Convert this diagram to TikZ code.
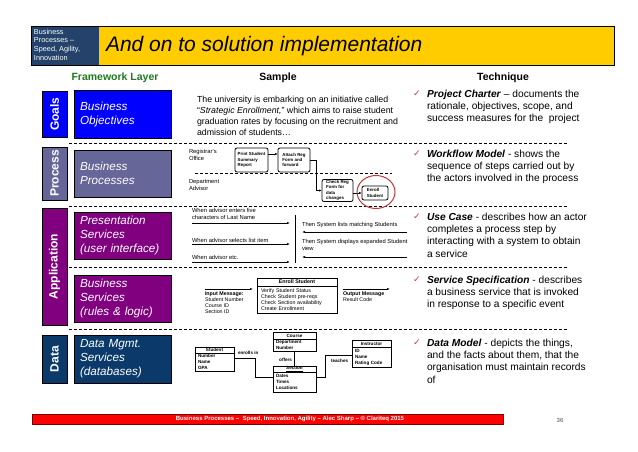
\documentclass[tikz,border=0pt]{standalone}
\usepackage{fontspec}
\setmainfont{Liberation Sans}
\newfontfamily\tickfont{DejaVu Sans}
\usepackage{tikz}
\usetikzlibrary{arrows.meta,positioning}

\definecolor{bannerblue}{HTML}{24426A}
\definecolor{banneryellow}{HTML}{FFCC00}
\definecolor{goalblue}{HTML}{0000FF}
\definecolor{procslate}{HTML}{666699}
\definecolor{apppurple}{HTML}{800080}
\definecolor{datanavy}{HTML}{0B3A6A}
\definecolor{layergreen}{HTML}{1E7B1E}
\definecolor{tickpink}{HTML}{CC3377}
\definecolor{ringred}{HTML}{C83232}
\definecolor{footred}{HTML}{FF0000}
\definecolor{footdark}{HTML}{7A0000}

\begin{document}
\begin{tikzpicture}[x=1pt, y=-1pt, >={Latex[length=3pt,width=2.2pt]},
  every node/.style={inner sep=0pt, outer sep=0pt},
  tabbox/.style={draw=black, line width=0.6pt, rotate=90, text=white,
    font=\bfseries\fontsize{12}{14}\selectfont, minimum height=25pt},
  layerbox/.style={draw=black, line width=0.6pt, minimum width=97pt, inner xsep=6pt,
    text width=85pt, align=left, text=white, font=\itshape\fontsize{11.7}{14}\selectfont},
  colhead/.style={font=\bfseries\fontsize{10.5}{12}\selectfont},
  layersep/.style={dash pattern=on 3pt off 2pt, line width=0.6pt},
  wfbox/.style={draw=black, line width=0.8pt, rounded corners=2pt, align=left,
    inner xsep=2pt, font=\bfseries\fontsize{4.4}{5.4}\selectfont},
  smalltext/.style={align=left, font=\fontsize{5.8}{7}\selectfont},
  ucarrow/.style={->, line width=0.6pt},
  erhead/.style={draw=black, line width=0.8pt, font=\bfseries\fontsize{4.6}{6}\selectfont},
  erbody/.style={draw=black, line width=0.8pt, align=left, inner xsep=3pt,
    font=\bfseries\fontsize{4.6}{6}\selectfont},
  erlabel/.style={font=\bfseries\fontsize{4.6}{6}\selectfont},
  techtick/.style={anchor=west, text=tickpink, font=\tickfont\fontsize{9}{10}\selectfont},
  techtext/.style={anchor=north west, align=left, font=\fontsize{10.2}{12.3}\selectfont}]
  \useasboundingbox (0,0) rectangle (638,451);

  % Banner
  \fill[bannerblue] (31,26) rectangle (99,65);
  \fill[banneryellow] (99,26) rectangle (614,65);
  \draw[line width=0.8pt] (31,26) rectangle (614,65);
  \node[anchor=north west, align=left, text=white, font=\fontsize{7.3}{8.6}\selectfont]
    (bannertag) at (34,29) {Business\\Processes --\\Speed, Agility,\\Innovation};
  \node[anchor=west, font=\itshape\fontsize{21}{24}\selectfont]
    (bannertitle) at (106,46) {And on to solution implementation};

  % Column headings
  \node[colhead, text=layergreen] (headlayer) at (115,78) {Framework Layer};
  \node[colhead] (headsample) at (278,78) {Sample};
  \node[colhead] (headtech) at (503,78) {Technique};

  % Layer tabs
  \node[tabbox, fill=goalblue, minimum width=46pt] (goalstab) at (54.5,114) {Goals};
  \node[tabbox, fill=procslate, minimum width=53pt] (processtab) at (54.5,173.5) {Process};
  \node[tabbox, fill=apppurple, minimum width=117pt] (apptab) at (54.5,266.5) {Application};
  \node[tabbox, fill=datanavy, minimum width=48pt] (datatab) at (54.5,359) {Data};

  % Layer boxes
  \node[layerbox, fill=goalblue, minimum height=48pt] (objectives) at (122.5,114) {Business\\Objectives};
  \node[layerbox, fill=procslate, minimum height=47pt] (processes) at (122.5,173.5) {Business\\Processes};
  \node[layerbox, fill=apppurple, minimum height=47pt] (presentation) at (122.5,235.5) {Presentation\\Services\\(user interface)};
  \node[layerbox, fill=apppurple, minimum height=47pt] (bizservices) at (122.5,298.5) {Business\\Services\\(rules \& logic)};
  \node[layerbox, fill=datanavy, minimum height=48pt] (datamgmt) at (122.5,359) {Data Mgmt.\\Services\\(databases)};

  % Separators
  \foreach \y in {143,206,267,329}
    \draw[layersep] (69,\y) -- (567,\y);

  % Goals sample
  \node[anchor=north west, align=left, font=\fontsize{8.8}{11.2}\selectfont] (goalsample) at (197,96)
    {The university is embarking on an initiative called\\
     ``\textit{Strategic Enrollment,}'' which aims to raise student\\
     graduation rates by focusing on the recruitment and\\
     admission of students\dots};

  % Process sample (workflow)
  \node[smalltext, anchor=north west] (registrar) at (189,149.5) {Registrar's\\Office};
  \node[smalltext, anchor=north west] (advisor) at (189,179.5) {Department\\Advisor};
  \draw[layersep, line width=0.5pt] (195,173) -- (392,173);
  \node[wfbox, minimum width=33pt, minimum height=24pt] (printrep) at (251.5,160) {Print Student\\Summary\\Report};
  \node[wfbox, minimum width=32pt, minimum height=24pt] (attachreg) at (294,160) {Attach Reg\\Form and\\forward};
  \node[wfbox, minimum width=31pt, minimum height=22pt] (checkreg) at (337.5,190.5) {Check Reg\\Form for\\data\\changes};
  \node[wfbox, minimum width=26pt, minimum height=14pt] (enrollwf) at (375,193) {Enroll\\Student};
  \draw[->, line width=0.6pt] ([yshift=6pt]printrep.east) -- ([yshift=6pt]printrep.east -| attachreg.west);
  \draw[->, line width=0.6pt] (attachreg.east) -- ++(6,0) |- (checkreg.west);
  \draw[->, line width=0.6pt] (checkreg.east |- enrollwf.west) -- (enrollwf.west);
  \draw[ringred, line width=1pt] (376,192) ellipse [x radius=19pt, y radius=16.5pt];

  % Presentation sample (use case)
  \coordinate (ustop) at (295,215);
  \coordinate (usbot) at (295,263);
  \coordinate (usright) at (407,215);
  \draw[line width=0.7pt] (ustop) -- (usbot);
  \node[smalltext, anchor=north west] (actorone) at (192,208.5) {When advisor enters five\\characters of Last Name};
  \node[smalltext, anchor=west] (actortwo) at (192,240) {When advisor selects list item};
  \node[smalltext, anchor=west] (actorthree) at (192,257) {When advisor etc.};
  \node[smalltext, anchor=west] (sysone) at (302,225) {Then System lists matching Students};
  \node[smalltext, anchor=north west] (systwo) at (302,239.5) {Then System displays expanded Student\\view};
  \draw[ucarrow, shorten >=5pt] ([yshift=-14.5pt]actorone.north west) -- ([yshift=-14.5pt]actorone.north west -| ustop);
  \draw[ucarrow, shorten >=5pt] ([yshift=-4pt]actortwo.west) -- ([yshift=-4pt]actortwo.west -| ustop);
  \draw[ucarrow, shorten >=5pt] ([yshift=-5pt]actorthree.west) -- ([yshift=-5pt]actorthree.west -| ustop);
  \draw[ucarrow] ([yshift=-7pt]sysone.west -| usright) -- ([yshift=-7pt]sysone.west);
  \draw[ucarrow] ([yshift=-17.5pt]systwo.north west -| usright) -- ([yshift=-17.5pt]systwo.north west);

  % Business services sample (service spec)
  \node[erhead, minimum width=80pt, minimum height=8pt, font=\bfseries\fontsize{5.3}{6}\selectfont] (svchead) at (297,282) {Enroll Student};
  \node[erbody, below=0pt of svchead, minimum width=80pt, text width=72pt, minimum height=27pt,
    font=\fontsize{5.3}{6}\selectfont] (svcbody) {Verify Student Status\\Check Student pre-reqs\\Check Section availability\\Create Enrollment};
  \node[smalltext, anchor=north west, font=\fontsize{5.3}{6}\selectfont] (inmsg) at (205,292)
    {\textbf{Input Message:}\\Student Number\\Course ID\\Section ID};
  \node[smalltext, anchor=north west, font=\fontsize{5.3}{6}\selectfont] (outmsg) at (343,292)
    {\textbf{Output Message}\\Result Code};
  \draw[ucarrow, shorten >=4pt] ([yshift=3pt]inmsg.north west) -- ([yshift=3pt]inmsg.north west -| svcbody.west);
  \draw[ucarrow] ([yshift=3pt]outmsg.north west) -- ++(47,0);

  % Data sample (data model)
  \node[erhead, minimum width=39pt, minimum height=6pt] (studenthead) at (214.5,350) {Student};
  \node[erbody, below=0pt of studenthead, text width=33pt, minimum height=18pt] (studentbody) {Number\\Name\\GPA};
  \node[erhead, minimum width=43pt, minimum height=7pt] (coursehead) at (294.5,335.5) {Course};
  \node[erbody, below=0pt of coursehead, text width=37pt, minimum height=12pt] (coursebody) {Department\\Number};
  \node[erhead, minimum width=43pt, minimum height=6pt] (sectionhead) at (294.5,369) {\underline{Section}};
  \node[erbody, below=0pt of sectionhead, text width=37pt, minimum height=20pt] (sectionbody) {Dates\\Times\\Locations};
  \node[erhead, minimum width=39pt, minimum height=7pt] (instructorhead) at (371.5,343.5) {Instructor};
  \node[erbody, below=0pt of instructorhead, text width=33pt, minimum height=20pt] (instructorbody) {ID\\Name\\Rating Code};
  \draw[line width=0.8pt] ([yshift=4pt]studentbody.east) -- ++(21,0) |- ([yshift=5pt]sectionbody.west);
  \draw[line width=0.8pt] (coursebody.south) -- (sectionhead.north);
  \draw[line width=0.8pt] ([yshift=5pt]sectionbody.east) -- ++(9,0) |- ([yshift=2pt]instructorbody.west);
  \node[erlabel, anchor=west] (enrollslbl) at (238,353) {enrolls in};
  \node[erlabel, anchor=east] (offerslbl) at (292,360) {offers};
  \node[erlabel, anchor=west] (teacheslbl) at (331,360.5) {teaches};

  % Technique column
  \node[techtick] (pctick) at (413,94) {✓};
  \node[techtext] (pctext) at (427,90) {\textbf{\textit{Project Charter}} -- documents the\\rationale, objectives, scope, and\\success measures for the \ project};
  \node[techtick] (wftick) at (413,154) {✓};
  \node[techtext] (wftext) at (427,150) {\textbf{\textit{Workflow Model}} - shows the\\sequence of steps carried out by\\the actors involved in the process};
  \node[techtick] (uctick) at (413,217) {✓};
  \node[techtext] (uctext) at (427,213) {\textbf{\textit{Use Case}} - describes how an actor\\completes a process step by\\interacting with a system to obtain\\a service};
  \node[techtick] (sstick) at (413,280) {✓};
  \node[techtext] (sstext) at (427,276) {\textbf{\textit{Service Specification}} - describes\\a business service that is invoked\\in response to a specific event};
  \node[techtick] (dmtick) at (413,343) {✓};
  \node[techtext] (dmtext) at (427,339) {\textbf{\textit{Data Model}} - depicts the things,\\and the facts about them, that the\\organisation must maintain records\\of};

  % Footer
  \fill[footred] (32,414) rectangle (503,424);
  \draw[footdark, line width=0.8pt] (32,414) rectangle (503,424);
  \node[text=white, font=\bfseries\fontsize{6}{7}\selectfont] (footnote) at (290,419)
    {Business Processes --\ \ Speed, Innovation, Agility -- Alec Sharp -- \textcopyright{} Clariteq 2015};
  \node[text=black!70, font=\fontsize{6}{7}\selectfont] (pagenum) at (560,420) {36};
\end{tikzpicture}
\end{document}
